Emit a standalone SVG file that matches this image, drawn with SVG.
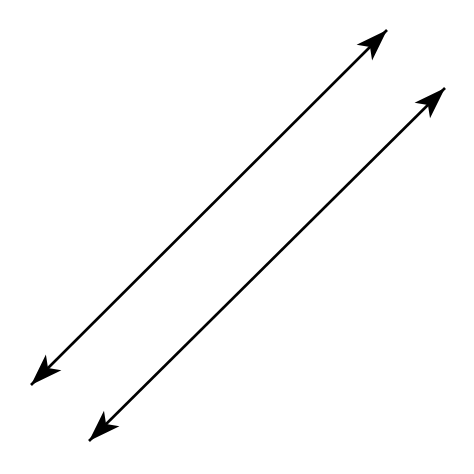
<svg xmlns="http://www.w3.org/2000/svg" width="474" height="474" viewBox="0 0 474 474">
<defs>
<marker id="ah" markerUnits="userSpaceOnUse" markerWidth="40" markerHeight="30" viewBox="-32 -15 40 30" refX="0" refY="0" orient="auto-start-reverse">
<path d="M0,0 L-32,-11 L-24,0 L-32,11 Z" fill="#000"/>
</marker>
<style>.ln{stroke:#000;stroke-width:2.6;fill:none}</style>
</defs>
<rect width="474" height="474" fill="#fff"/>
<g id="connectors">
<line class="ln" x1="31" y1="385" x2="387" y2="30" marker-start="url(#ah)" marker-end="url(#ah)"/>
<line class="ln" x1="89" y1="441" x2="445" y2="88" marker-start="url(#ah)" marker-end="url(#ah)"/>
</g>
</svg>
